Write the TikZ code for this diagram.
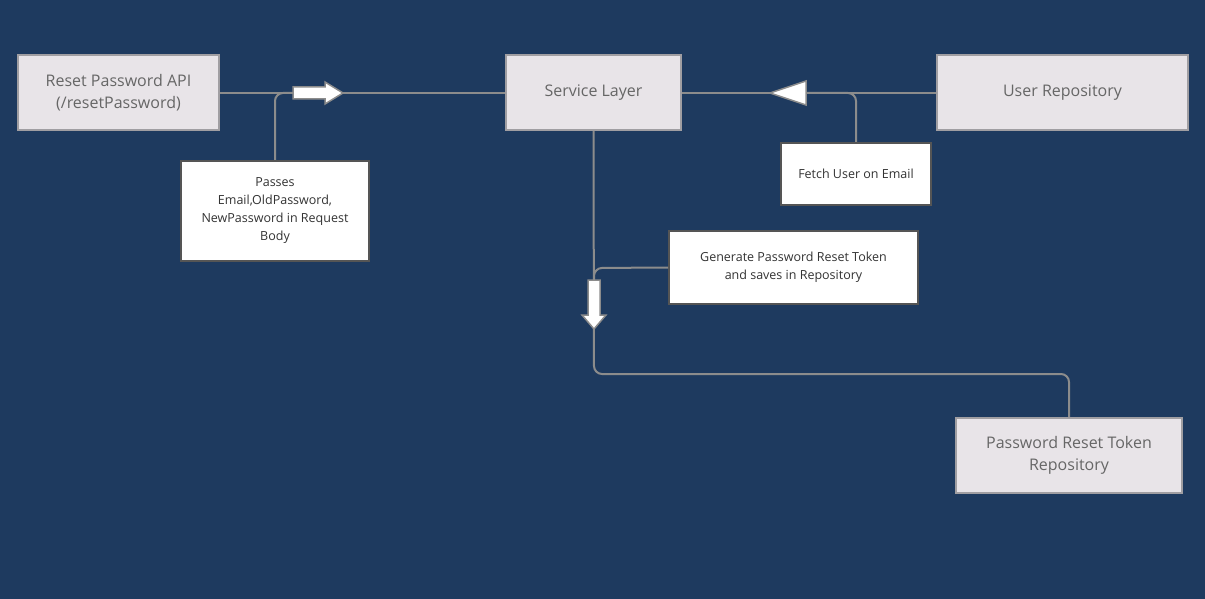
\documentclass[tikz,border=0pt]{standalone}
\usepackage{fontspec}
\setmainfont{Open Sans}
\definecolor{bg}{HTML}{1E3A5F}
\definecolor{boxfill}{HTML}{E8E4E8}
\definecolor{boxline}{HTML}{A09EA2}
\definecolor{lbl}{HTML}{555555}
\definecolor{conn}{HTML}{8C8C8C}
\begin{document}
\begin{tikzpicture}[x=1pt,y=-1pt,
  ent/.style={draw=boxline,line width=2pt,fill=boxfill,text=black!60,font=\fontsize{16}{22}\selectfont,align=center,inner sep=0pt},
  note/.style={draw=lbl,line width=2pt,fill=white,text=black!80,font=\fontsize{12.5}{18}\selectfont,align=center,inner sep=0pt},
  wire/.style={draw=conn,line width=2pt,rounded corners=8pt},
  blk/.style={draw=conn,line width=1.5pt,fill=white,line join=miter}]
\fill[bg] (0,0) rectangle (1205,599);
\useasboundingbox (0,0) rectangle (1205,599);
\node[ent,minimum width=201pt,minimum height=75pt] (api) at (118.5,92.5) {Reset Password API\\(/resetPassword)};
\node[ent,minimum width=175pt,minimum height=75pt] (svc) at (593.5,92.5) {Service Layer};
\node[ent,minimum width=251pt,minimum height=75pt] (usr) at (1062.5,92.5) {User Repository};
\node[ent,minimum width=226pt,minimum height=75pt] (tok) at (1069,455.5) {Password Reset Token\\Repository};
\node[note,minimum width=188pt,minimum height=100pt] (pas) at (275,211) {Passes\\Email,OldPassword,\\NewPassword in Request\\Body};
\node[note,minimum width=150pt,minimum height=62pt] (fet) at (856,174) {Fetch User on Email};
\node[note,minimum width=249pt,minimum height=73pt] (gen) at (793.5,267.5) {Generate Password Reset Token\\and saves in Repository};
\coordinate (a1) at (293,93);
\coordinate (a2) at (806,93);
\coordinate (a3) at (594,280);
% connectors
\draw[wire] (api.east|-0,93) -- (svc.west|-0,93);
\draw[wire] (usr.west|-0,93) -- (svc.east|-0,93);
\draw[wire] (pas.north) -- (275,93) -- (a1);
\draw[wire] (fet.north) -- (856,93) -- (a2);
\draw[wire] (gen.west) -- (594,268) -- (a3);
\draw[wire] (svc.south) -- (594,374) -- (1069,374) -- (tok.north);
% block arrows
\draw[blk] (293,87) -- (325,87) -- (325,82) -- (343,93) -- (325,104) -- (325,99) -- (293,99) -- cycle;
\draw[blk] (806,81) -- (806,105) -- (770,93) -- cycle;
\draw[blk] (588,280) -- (600,280) -- (600,315) -- (606,315) -- (594,329) -- (582,315) -- (588,315) -- cycle;
\end{tikzpicture}
\end{document}
